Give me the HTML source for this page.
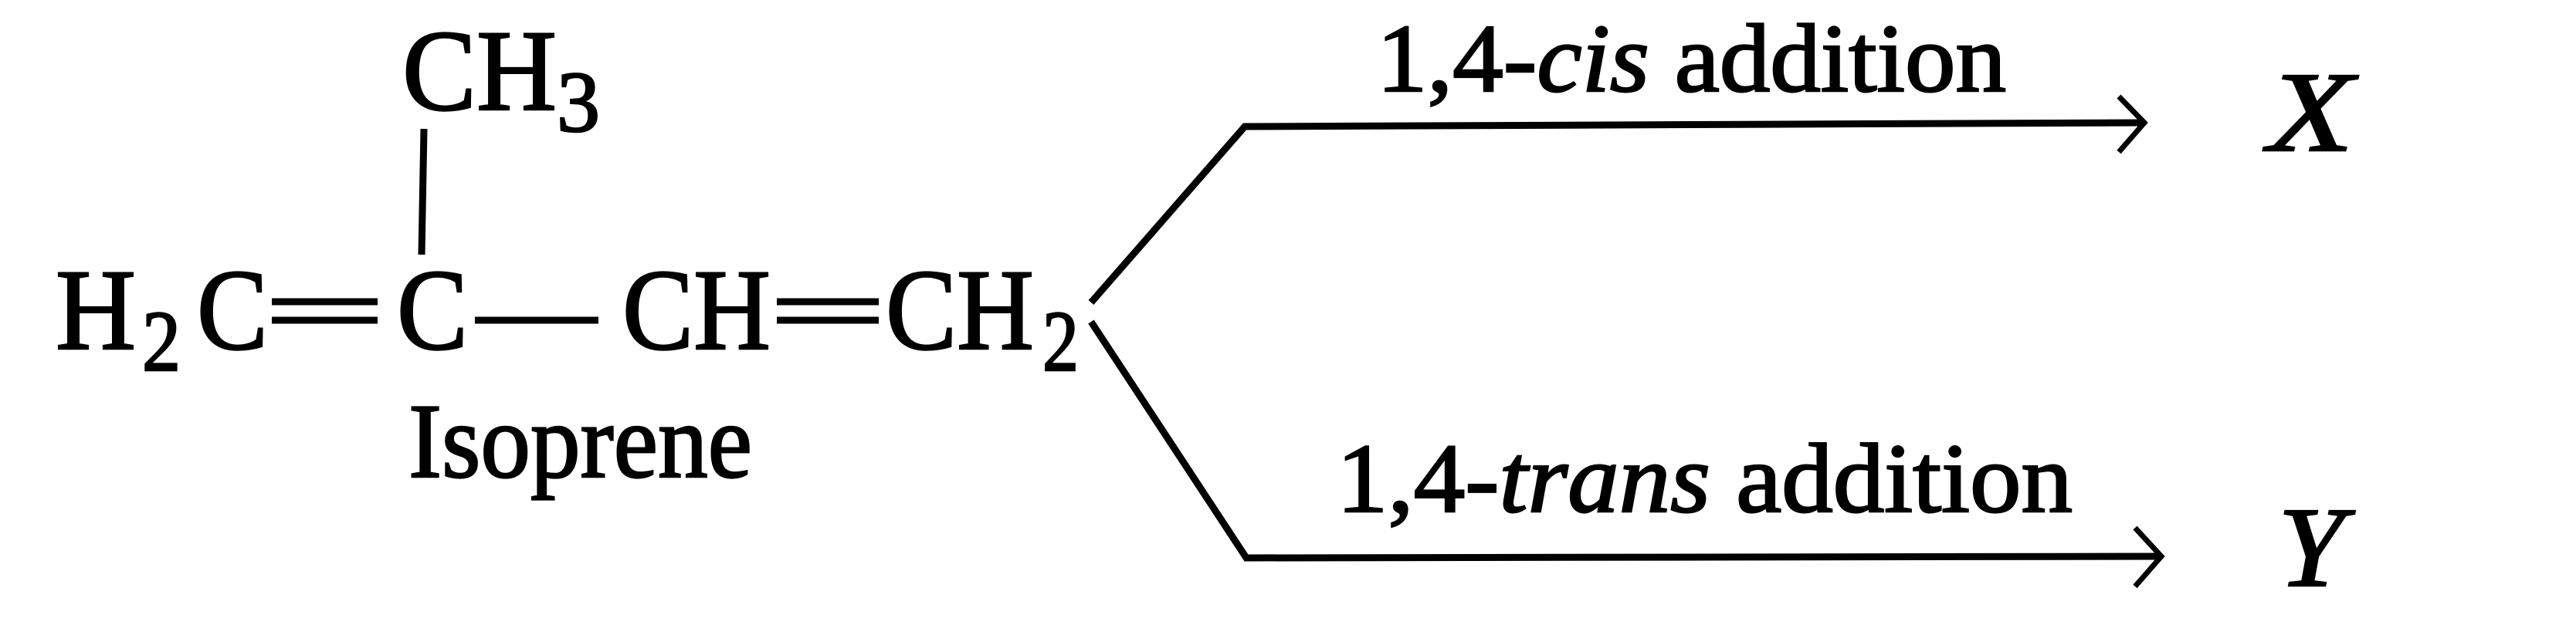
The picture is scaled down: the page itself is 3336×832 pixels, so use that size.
<!DOCTYPE html>
<html><head><meta charset="utf-8"><style>
html,body{margin:0;padding:0;background:#fff;}
svg{display:block}
text{font-family:"Liberation Serif",serif;fill:#000;stroke:#000;stroke-width:2.5;}
</style></head><body>
<svg width="3336" height="832" viewBox="0 0 3336 832" xmlns="http://www.w3.org/2000/svg">
<g stroke="#000" stroke-width="9" fill="none" stroke-linecap="butt">
<line x1="549" y1="167" x2="546" y2="330"/>
<line x1="352" y1="391" x2="489" y2="391"/>
<line x1="352" y1="415" x2="489" y2="415"/>
<line x1="615" y1="415" x2="775" y2="415"/>
<line x1="1006" y1="391" x2="1138" y2="391"/>
<line x1="1006" y1="415" x2="1138" y2="415"/>
<polyline points="1413,392 1612,164 2777,159"/>
<polyline points="1413,417 1614,723 2799,721"/>
<polyline points="2744,125 2777,159 2744,197" stroke-width="7"/>
<polyline points="2765,684 2799,721 2765,760" stroke-width="7"/>
</g>
<text x="521" y="142" font-size="150" textLength="200" lengthAdjust="spacingAndGlyphs">CH</text>
<text x="721" y="170" font-size="112">3</text>
<text x="72" y="452" font-size="150" textLength="104" lengthAdjust="spacingAndGlyphs">H</text>
<text x="184" y="480" font-size="112" textLength="50" lengthAdjust="spacingAndGlyphs">2</text>
<text x="255" y="452" font-size="150" textLength="92" lengthAdjust="spacingAndGlyphs">C</text>
<text x="514" y="452" font-size="150" textLength="92" lengthAdjust="spacingAndGlyphs">C</text>
<text x="806" y="452" font-size="150" textLength="192" lengthAdjust="spacingAndGlyphs">CH</text>
<text x="1147" y="452" font-size="150" textLength="192" lengthAdjust="spacingAndGlyphs">CH</text>
<text x="1350" y="480" font-size="112" textLength="47" lengthAdjust="spacingAndGlyphs">2</text>
<text x="529" y="618" font-size="138" textLength="445" lengthAdjust="spacingAndGlyphs">Isoprene</text>
<text x="1783" y="118" font-size="126" textLength="815" lengthAdjust="spacingAndGlyphs">1,4-<tspan font-style="italic">cis</tspan> addition</text>
<text x="1731" y="663" font-size="128" textLength="953" lengthAdjust="spacingAndGlyphs">1,4-<tspan font-style="italic">trans</tspan> addition</text>
<text x="2937" y="195" font-size="148" font-style="italic" textLength="111" lengthAdjust="spacingAndGlyphs" stroke-width="0">X</text>
<text x="2950" y="759" font-size="148" font-style="italic" textLength="86" lengthAdjust="spacingAndGlyphs" stroke-width="0">Y</text>
</svg>
</body></html>
